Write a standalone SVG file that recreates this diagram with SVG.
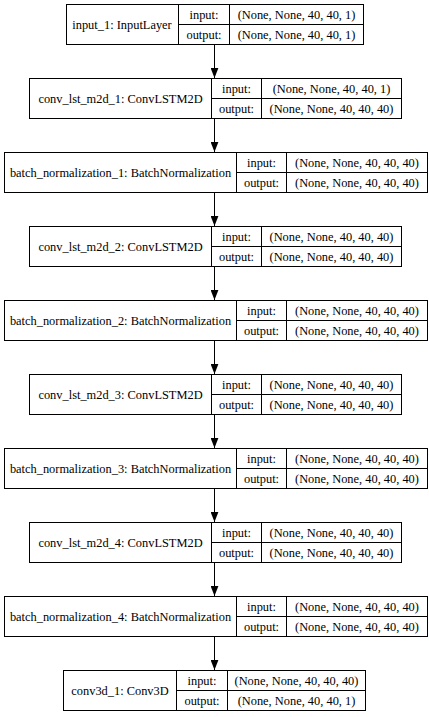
<svg xmlns="http://www.w3.org/2000/svg" width="429" height="717" viewBox="0 0 429 717" font-family="'Liberation Serif', 'Times New Roman', 'DejaVu Serif', serif">
<style>
rect.b{fill:#fff;stroke:#000;stroke-width:1}
line.d{stroke:#000;stroke-width:1}
text{font-family:'Liberation Serif','Times New Roman','DejaVu Serif',serif;font-size:12.4px;fill:#000;text-anchor:middle}
.e line{stroke:#000;stroke-width:1}
</style>
<defs>
<marker id="ah" markerUnits="userSpaceOnUse" markerWidth="8" markerHeight="10" viewBox="0 0 7 9" refX="3.5" refY="9" orient="0">
<path d="M0,0 L7,0 L3.5,9 z" fill="#000"/>
</marker>
</defs>
<rect width="429" height="717" fill="#fff"/>
<g class="e" id="edges">
<line x1="214.5" y1="45" x2="214.5" y2="78" marker-end="url(#ah)"/>
<line x1="214.5" y1="119" x2="214.5" y2="152" marker-end="url(#ah)"/>
<line x1="214.5" y1="193" x2="214.5" y2="226" marker-end="url(#ah)"/>
<line x1="214.5" y1="267" x2="214.5" y2="300" marker-end="url(#ah)"/>
<line x1="214.5" y1="341" x2="214.5" y2="374" marker-end="url(#ah)"/>
<line x1="214.5" y1="415" x2="214.5" y2="448" marker-end="url(#ah)"/>
<line x1="214.5" y1="489" x2="214.5" y2="522" marker-end="url(#ah)"/>
<line x1="214.5" y1="563" x2="214.5" y2="596" marker-end="url(#ah)"/>
<line x1="214.5" y1="637" x2="214.5" y2="670" marker-end="url(#ah)"/>
</g>
<g id="n1">
<rect class="b" x="66.5" y="4.5" width="297" height="40"/>
<line class="d" x1="178.5" y1="4.5" x2="178.5" y2="44.5"/>
<line class="d" x1="229.5" y1="4.5" x2="229.5" y2="44.5"/>
<line class="d" x1="178.5" y1="24.5" x2="363.5" y2="24.5"/>
<text x="122" y="28.5">input_1: InputLayer</text>
<text x="204" y="18.5">input:</text>
<text x="204" y="38.5">output:</text>
<text x="296.5" y="18.5">(None, None, 40, 40, 1)</text>
<text x="296.5" y="38.5">(None, None, 40, 40, 1)</text>
</g>
<g id="n2">
<rect class="b" x="29.5" y="78.5" width="372" height="40"/>
<line class="d" x1="211.5" y1="78.5" x2="211.5" y2="118.5"/>
<line class="d" x1="261.5" y1="78.5" x2="261.5" y2="118.5"/>
<line class="d" x1="211.5" y1="98.5" x2="401.5" y2="98.5"/>
<text x="120.5" y="102.5">conv_lst_m2d_1: ConvLSTM2D</text>
<text x="236.5" y="92.5">input:</text>
<text x="236.5" y="112.5">output:</text>
<text x="331.5" y="92.5">(None, None, 40, 40, 1)</text>
<text x="331.5" y="112.5">(None, None, 40, 40, 40)</text>
</g>
<g id="n3">
<rect class="b" x="4.5" y="152.5" width="423" height="40"/>
<line class="d" x1="236.5" y1="152.5" x2="236.5" y2="192.5"/>
<line class="d" x1="286.5" y1="152.5" x2="286.5" y2="192.5"/>
<line class="d" x1="236.5" y1="172.5" x2="427.5" y2="172.5"/>
<text x="120.5" y="176.5">batch_normalization_1: BatchNormalization</text>
<text x="261.5" y="166.5">input:</text>
<text x="261.5" y="186.5">output:</text>
<text x="357" y="166.5">(None, None, 40, 40, 40)</text>
<text x="357" y="186.5">(None, None, 40, 40, 40)</text>
</g>
<g id="n4">
<rect class="b" x="29.5" y="226.5" width="372" height="40"/>
<line class="d" x1="211.5" y1="226.5" x2="211.5" y2="266.5"/>
<line class="d" x1="261.5" y1="226.5" x2="261.5" y2="266.5"/>
<line class="d" x1="211.5" y1="246.5" x2="401.5" y2="246.5"/>
<text x="120.5" y="250.5">conv_lst_m2d_2: ConvLSTM2D</text>
<text x="236.5" y="240.5">input:</text>
<text x="236.5" y="260.5">output:</text>
<text x="331.5" y="240.5">(None, None, 40, 40, 40)</text>
<text x="331.5" y="260.5">(None, None, 40, 40, 40)</text>
</g>
<g id="n5">
<rect class="b" x="4.5" y="300.5" width="423" height="40"/>
<line class="d" x1="236.5" y1="300.5" x2="236.5" y2="340.5"/>
<line class="d" x1="286.5" y1="300.5" x2="286.5" y2="340.5"/>
<line class="d" x1="236.5" y1="320.5" x2="427.5" y2="320.5"/>
<text x="120.5" y="324.5">batch_normalization_2: BatchNormalization</text>
<text x="261.5" y="314.5">input:</text>
<text x="261.5" y="334.5">output:</text>
<text x="357" y="314.5">(None, None, 40, 40, 40)</text>
<text x="357" y="334.5">(None, None, 40, 40, 40)</text>
</g>
<g id="n6">
<rect class="b" x="29.5" y="374.5" width="372" height="40"/>
<line class="d" x1="211.5" y1="374.5" x2="211.5" y2="414.5"/>
<line class="d" x1="261.5" y1="374.5" x2="261.5" y2="414.5"/>
<line class="d" x1="211.5" y1="394.5" x2="401.5" y2="394.5"/>
<text x="120.5" y="398.5">conv_lst_m2d_3: ConvLSTM2D</text>
<text x="236.5" y="388.5">input:</text>
<text x="236.5" y="408.5">output:</text>
<text x="331.5" y="388.5">(None, None, 40, 40, 40)</text>
<text x="331.5" y="408.5">(None, None, 40, 40, 40)</text>
</g>
<g id="n7">
<rect class="b" x="4.5" y="448.5" width="423" height="40"/>
<line class="d" x1="236.5" y1="448.5" x2="236.5" y2="488.5"/>
<line class="d" x1="286.5" y1="448.5" x2="286.5" y2="488.5"/>
<line class="d" x1="236.5" y1="468.5" x2="427.5" y2="468.5"/>
<text x="120.5" y="472.5">batch_normalization_3: BatchNormalization</text>
<text x="261.5" y="462.5">input:</text>
<text x="261.5" y="482.5">output:</text>
<text x="357" y="462.5">(None, None, 40, 40, 40)</text>
<text x="357" y="482.5">(None, None, 40, 40, 40)</text>
</g>
<g id="n8">
<rect class="b" x="29.5" y="522.5" width="372" height="40"/>
<line class="d" x1="211.5" y1="522.5" x2="211.5" y2="562.5"/>
<line class="d" x1="261.5" y1="522.5" x2="261.5" y2="562.5"/>
<line class="d" x1="211.5" y1="542.5" x2="401.5" y2="542.5"/>
<text x="120.5" y="546.5">conv_lst_m2d_4: ConvLSTM2D</text>
<text x="236.5" y="536.5">input:</text>
<text x="236.5" y="556.5">output:</text>
<text x="331.5" y="536.5">(None, None, 40, 40, 40)</text>
<text x="331.5" y="556.5">(None, None, 40, 40, 40)</text>
</g>
<g id="n9">
<rect class="b" x="4.5" y="596.5" width="423" height="40"/>
<line class="d" x1="236.5" y1="596.5" x2="236.5" y2="636.5"/>
<line class="d" x1="286.5" y1="596.5" x2="286.5" y2="636.5"/>
<line class="d" x1="236.5" y1="616.5" x2="427.5" y2="616.5"/>
<text x="120.5" y="620.5">batch_normalization_4: BatchNormalization</text>
<text x="261.5" y="610.5">input:</text>
<text x="261.5" y="630.5">output:</text>
<text x="357" y="610.5">(None, None, 40, 40, 40)</text>
<text x="357" y="630.5">(None, None, 40, 40, 40)</text>
</g>
<g id="n10">
<rect class="b" x="63.5" y="670.5" width="302" height="40"/>
<line class="d" x1="176.5" y1="670.5" x2="176.5" y2="710.5"/>
<line class="d" x1="227.5" y1="670.5" x2="227.5" y2="710.5"/>
<line class="d" x1="176.5" y1="690.5" x2="365.5" y2="690.5"/>
<text x="120" y="694.5">conv3d_1: Conv3D</text>
<text x="202" y="684.5">input:</text>
<text x="202" y="704.5">output:</text>
<text x="296.5" y="684.5">(None, None, 40, 40, 40)</text>
<text x="296.5" y="704.5">(None, None, 40, 40, 1)</text>
</g>
</svg>
